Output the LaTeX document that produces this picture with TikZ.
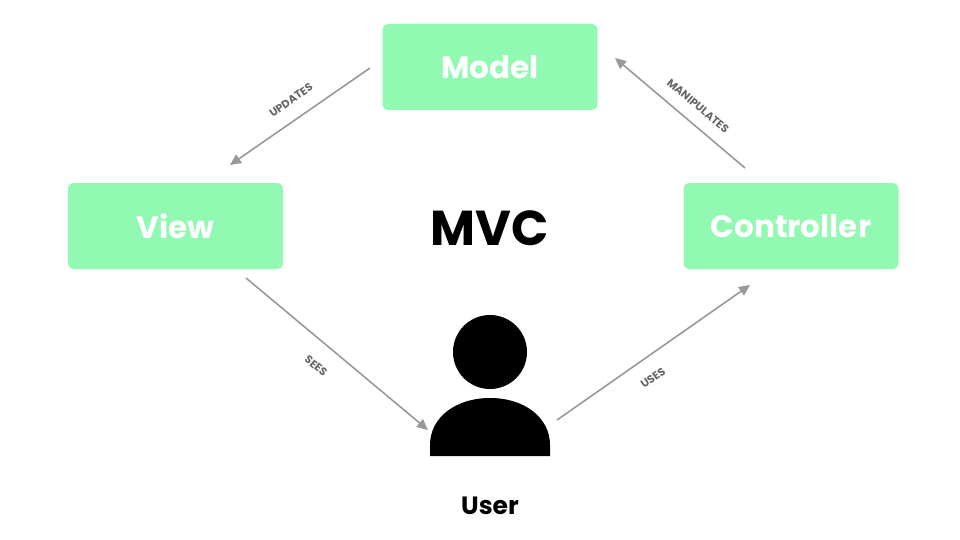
\documentclass[tikz,border=0pt]{standalone}
\usepackage{fontspec}
\setmainfont{Poppins}
\usetikzlibrary{arrows.meta}
\definecolor{boxg}{HTML}{92F9B3}
\definecolor{arr}{HTML}{999999}
\definecolor{lbl}{HTML}{666666}
\begin{document}
\begin{tikzpicture}[x=1pt,y=-1pt,
  box/.style={fill=boxg,rounded corners=6pt,minimum width=215pt,minimum height=86pt,text=white,font=\bfseries\fontsize{31}{34}\selectfont},
  con/.style={draw=arr,line width=1.6pt,-{Triangle[length=11pt,width=10pt]}},
  lab/.style={text=lbl,font=\bfseries\fontsize{11}{12}\selectfont,inner sep=1pt}]
\useasboundingbox (0,0) rectangle (960,540);
\node[box] (model) at (490,67) {Model};
\node[box] (view) at (175.5,226) {View};
\node[box] (ctrl) at (791,226) {Controller};
\node[font=\bfseries\fontsize{49}{52}\selectfont] (mvc) at (490,228) {MVC};
\fill (490,352) circle (37);
\fill (430,456) -- (430,445) .. controls (430,418) and (455,398) .. (490,398) .. controls (525,398) and (550,418) .. (550,445) -- (550,456) -- cycle;
\coordinate (user) at (490,420);
\node[font=\bfseries\fontsize{25}{28}\selectfont] (ulabel) at (490,506) {User};
\coordinate (a1) at (370,68); \coordinate (b1) at (230,165);
\coordinate (a2) at (745,168); \coordinate (b2) at (615,58);
\coordinate (a3) at (246,278); \coordinate (b3) at (428,430);
\coordinate (a4) at (557,420); \coordinate (b4) at (750,285);
\draw[con] (a1) -- (b1);
\draw[con] (a2) -- (b2);
\draw[con] (a3) -- (b3);
\draw[con] (a4) -- (b4);
\node[lab,rotate=35] (l1) at (291,100) {UPDATES};
\node[lab,rotate=-40] (l2) at (698,106) {MANIPULATES};
\node[lab,rotate=-40] (l3) at (316,366) {SEES};
\node[lab,rotate=35] (l4) at (653,378) {USES};
\end{tikzpicture}
\end{document}
